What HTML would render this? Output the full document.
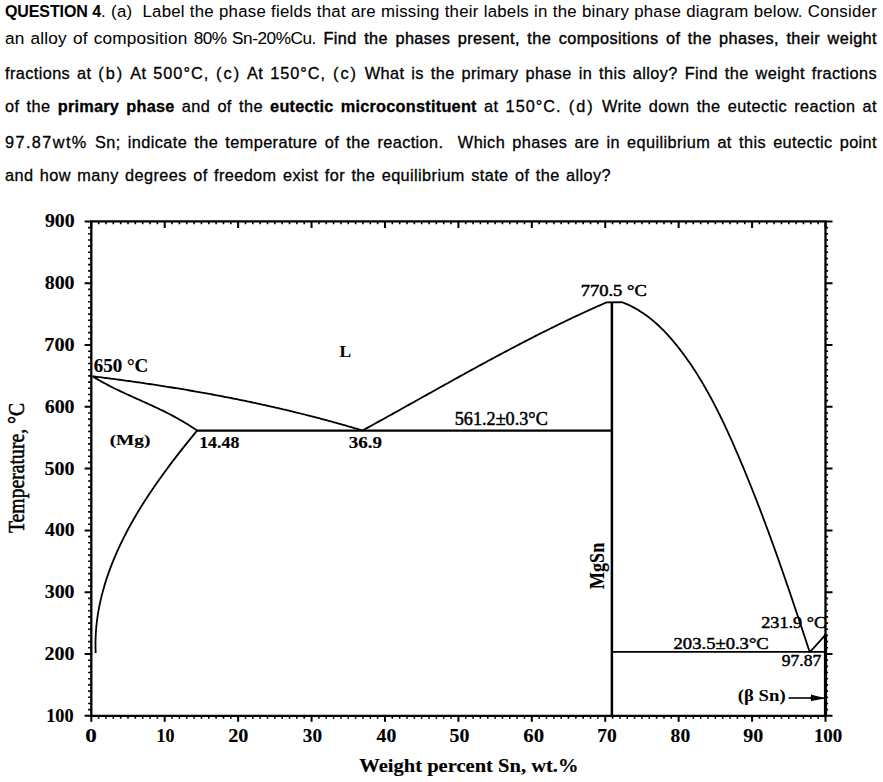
<!DOCTYPE html>
<html><head><meta charset="utf-8"><style>
html,body{margin:0;padding:0;background:#fff;}
body{width:883px;height:782px;overflow:hidden;position:relative;}
.ch{position:absolute;left:0;top:0;}
.ln{position:absolute;left:5px;width:872px;font-family:"Liberation Sans",sans-serif;line-height:20px;height:20px;color:#000;-webkit-text-stroke:0.3px #000;text-align:justify;text-align-last:justify;white-space:nowrap;}
.ar{font-size:16.3px;letter-spacing:0.4px;}
.cal{font-size:16.8px;letter-spacing:0.25px;-webkit-text-stroke:0.05px #000;}
.hv{-webkit-text-stroke:0.4px #000;}
.cal2{font-size:17.2px;letter-spacing:0.2px;word-spacing:-1.5px;-webkit-text-stroke:0.05px #000;}
.l6{text-align-last:left;word-spacing:1.5px;}
b{font-weight:bold;letter-spacing:0.25px;}
.nc{letter-spacing:-0.45px;}
b.q{letter-spacing:-0.1px;font-size:16px;}
.w{letter-spacing:2px;}
.w1{letter-spacing:1.0px;}
.w2{letter-spacing:1.4px;}

</style></head><body>
<div class="ln cal" style="top:2.48px"><b class="q">QUESTION 4</b>. (a)&nbsp; Label the phase fields that are missing their labels in the binary phase diagram below. Consider</div>
<div class="ln ar" style="top:27.65px"><span class="cal2">an alloy of composition <span class="nc">80% Sn-20%Cu.</span></span> <span class="hv">Find the phases present, the compositions of the phases, their weight</span></div>
<div class="ln ar" style="top:62.55px">fractions at <span class="w">(b)</span> At <span class="w1">500°C,</span> <span class="w">(c)</span> At <span class="w1">150°C,</span> <span class="w">(c)</span> What is the primary phase in this alloy? Find the weight fractions</div>
<div class="ln ar" style="top:96.45px">of the <b>primary phase</b> and of the <b>eutectic microconstituent</b> at <span class="w1">150°C.</span> <span class="w">(d)</span> Write down the eutectic reaction at</div>
<div class="ln ar" style="top:131.55px"><span class="w2">97.87wt%</span> Sn; indicate the temperature of the reaction.&nbsp; Which phases are in equilibrium at this eutectic point</div>
<div class="ln ar l6" style="top:165.45px">and how many degrees of freedom exist for the equilibrium state of the alloy?</div>
<svg class="ch" width="883" height="782" viewBox="0 0 883 782">
<g stroke="#000" stroke-width="2.3" fill="none" stroke-linecap="square">
<path d="M91.3 221.4 H825.5 V715.8 H91.3 Z"/>
</g>
<path d="M84.6 715.8H91.3 M825.5 715.8H832.5 M84.6 654H91.3 M825.5 654H832.5 M84.6 592.2H91.3 M825.5 592.2H832.5 M84.6 530.4H91.3 M825.5 530.4H832.5 M84.6 468.6H91.3 M825.5 468.6H832.5 M84.6 406.8H91.3 M825.5 406.8H832.5 M84.6 345H91.3 M825.5 345H832.5 M84.6 283.2H91.3 M825.5 283.2H832.5 M84.6 221.4H91.3 M825.5 221.4H832.5 M91.3 715.8V721.8 M91.3 221.4V227.9 M164.72 715.8V721.8 M164.72 221.4V227.9 M238.14 715.8V721.8 M238.14 221.4V227.9 M311.56 715.8V721.8 M311.56 221.4V227.9 M384.98 715.8V721.8 M384.98 221.4V227.9 M458.4 715.8V721.8 M458.4 221.4V227.9 M531.82 715.8V721.8 M531.82 221.4V227.9 M605.24 715.8V721.8 M605.24 221.4V227.9 M678.66 715.8V721.8 M678.66 221.4V227.9 M752.08 715.8V721.8 M752.08 221.4V227.9 M825.5 715.8V721.8 M825.5 221.4V227.9" stroke="#000" stroke-width="2" fill="none"/>
<path d="M88.1 709.62H91.3 M825.5 709.62H828.1 M88.1 703.44H91.3 M825.5 703.44H828.1 M88.1 697.26H91.3 M825.5 697.26H828.1 M88.1 691.08H91.3 M825.5 691.08H828.1 M88.1 684.9H91.3 M825.5 684.9H828.1 M88.1 678.72H91.3 M825.5 678.72H828.1 M88.1 672.54H91.3 M825.5 672.54H828.1 M88.1 666.36H91.3 M825.5 666.36H828.1 M88.1 660.18H91.3 M825.5 660.18H828.1 M88.1 647.82H91.3 M825.5 647.82H828.1 M88.1 641.64H91.3 M825.5 641.64H828.1 M88.1 635.46H91.3 M825.5 635.46H828.1 M88.1 629.28H91.3 M825.5 629.28H828.1 M88.1 623.1H91.3 M825.5 623.1H828.1 M88.1 616.92H91.3 M825.5 616.92H828.1 M88.1 610.74H91.3 M825.5 610.74H828.1 M88.1 604.56H91.3 M825.5 604.56H828.1 M88.1 598.38H91.3 M825.5 598.38H828.1 M88.1 586.02H91.3 M825.5 586.02H828.1 M88.1 579.84H91.3 M825.5 579.84H828.1 M88.1 573.66H91.3 M825.5 573.66H828.1 M88.1 567.48H91.3 M825.5 567.48H828.1 M88.1 561.3H91.3 M825.5 561.3H828.1 M88.1 555.12H91.3 M825.5 555.12H828.1 M88.1 548.94H91.3 M825.5 548.94H828.1 M88.1 542.76H91.3 M825.5 542.76H828.1 M88.1 536.58H91.3 M825.5 536.58H828.1 M88.1 524.22H91.3 M825.5 524.22H828.1 M88.1 518.04H91.3 M825.5 518.04H828.1 M88.1 511.86H91.3 M825.5 511.86H828.1 M88.1 505.68H91.3 M825.5 505.68H828.1 M88.1 499.5H91.3 M825.5 499.5H828.1 M88.1 493.32H91.3 M825.5 493.32H828.1 M88.1 487.14H91.3 M825.5 487.14H828.1 M88.1 480.96H91.3 M825.5 480.96H828.1 M88.1 474.78H91.3 M825.5 474.78H828.1 M88.1 462.42H91.3 M825.5 462.42H828.1 M88.1 456.24H91.3 M825.5 456.24H828.1 M88.1 450.06H91.3 M825.5 450.06H828.1 M88.1 443.88H91.3 M825.5 443.88H828.1 M88.1 437.7H91.3 M825.5 437.7H828.1 M88.1 431.52H91.3 M825.5 431.52H828.1 M88.1 425.34H91.3 M825.5 425.34H828.1 M88.1 419.16H91.3 M825.5 419.16H828.1 M88.1 412.98H91.3 M825.5 412.98H828.1 M88.1 400.62H91.3 M825.5 400.62H828.1 M88.1 394.44H91.3 M825.5 394.44H828.1 M88.1 388.26H91.3 M825.5 388.26H828.1 M88.1 382.08H91.3 M825.5 382.08H828.1 M88.1 375.9H91.3 M825.5 375.9H828.1 M88.1 369.72H91.3 M825.5 369.72H828.1 M88.1 363.54H91.3 M825.5 363.54H828.1 M88.1 357.36H91.3 M825.5 357.36H828.1 M88.1 351.18H91.3 M825.5 351.18H828.1 M88.1 338.82H91.3 M825.5 338.82H828.1 M88.1 332.64H91.3 M825.5 332.64H828.1 M88.1 326.46H91.3 M825.5 326.46H828.1 M88.1 320.28H91.3 M825.5 320.28H828.1 M88.1 314.1H91.3 M825.5 314.1H828.1 M88.1 307.92H91.3 M825.5 307.92H828.1 M88.1 301.74H91.3 M825.5 301.74H828.1 M88.1 295.56H91.3 M825.5 295.56H828.1 M88.1 289.38H91.3 M825.5 289.38H828.1 M88.1 277.02H91.3 M825.5 277.02H828.1 M88.1 270.84H91.3 M825.5 270.84H828.1 M88.1 264.66H91.3 M825.5 264.66H828.1 M88.1 258.48H91.3 M825.5 258.48H828.1 M88.1 252.3H91.3 M825.5 252.3H828.1 M88.1 246.12H91.3 M825.5 246.12H828.1 M88.1 239.94H91.3 M825.5 239.94H828.1 M88.1 233.76H91.3 M825.5 233.76H828.1 M88.1 227.58H91.3 M825.5 227.58H828.1 M98.64 715.8V718.8 M98.64 221.4V224.2 M105.98 715.8V718.8 M105.98 221.4V224.2 M113.33 715.8V718.8 M113.33 221.4V224.2 M120.67 715.8V718.8 M120.67 221.4V224.2 M128.01 715.8V718.8 M128.01 221.4V224.2 M135.35 715.8V718.8 M135.35 221.4V224.2 M142.69 715.8V718.8 M142.69 221.4V224.2 M150.04 715.8V718.8 M150.04 221.4V224.2 M157.38 715.8V718.8 M157.38 221.4V224.2 M172.06 715.8V718.8 M172.06 221.4V224.2 M179.4 715.8V718.8 M179.4 221.4V224.2 M186.75 715.8V718.8 M186.75 221.4V224.2 M194.09 715.8V718.8 M194.09 221.4V224.2 M201.43 715.8V718.8 M201.43 221.4V224.2 M208.77 715.8V718.8 M208.77 221.4V224.2 M216.11 715.8V718.8 M216.11 221.4V224.2 M223.46 715.8V718.8 M223.46 221.4V224.2 M230.8 715.8V718.8 M230.8 221.4V224.2 M245.48 715.8V718.8 M245.48 221.4V224.2 M252.82 715.8V718.8 M252.82 221.4V224.2 M260.17 715.8V718.8 M260.17 221.4V224.2 M267.51 715.8V718.8 M267.51 221.4V224.2 M274.85 715.8V718.8 M274.85 221.4V224.2 M282.19 715.8V718.8 M282.19 221.4V224.2 M289.53 715.8V718.8 M289.53 221.4V224.2 M296.88 715.8V718.8 M296.88 221.4V224.2 M304.22 715.8V718.8 M304.22 221.4V224.2 M318.9 715.8V718.8 M318.9 221.4V224.2 M326.24 715.8V718.8 M326.24 221.4V224.2 M333.59 715.8V718.8 M333.59 221.4V224.2 M340.93 715.8V718.8 M340.93 221.4V224.2 M348.27 715.8V718.8 M348.27 221.4V224.2 M355.61 715.8V718.8 M355.61 221.4V224.2 M362.95 715.8V718.8 M362.95 221.4V224.2 M370.3 715.8V718.8 M370.3 221.4V224.2 M377.64 715.8V718.8 M377.64 221.4V224.2 M392.32 715.8V718.8 M392.32 221.4V224.2 M399.66 715.8V718.8 M399.66 221.4V224.2 M407.01 715.8V718.8 M407.01 221.4V224.2 M414.35 715.8V718.8 M414.35 221.4V224.2 M421.69 715.8V718.8 M421.69 221.4V224.2 M429.03 715.8V718.8 M429.03 221.4V224.2 M436.37 715.8V718.8 M436.37 221.4V224.2 M443.72 715.8V718.8 M443.72 221.4V224.2 M451.06 715.8V718.8 M451.06 221.4V224.2 M465.74 715.8V718.8 M465.74 221.4V224.2 M473.08 715.8V718.8 M473.08 221.4V224.2 M480.43 715.8V718.8 M480.43 221.4V224.2 M487.77 715.8V718.8 M487.77 221.4V224.2 M495.11 715.8V718.8 M495.11 221.4V224.2 M502.45 715.8V718.8 M502.45 221.4V224.2 M509.79 715.8V718.8 M509.79 221.4V224.2 M517.14 715.8V718.8 M517.14 221.4V224.2 M524.48 715.8V718.8 M524.48 221.4V224.2 M539.16 715.8V718.8 M539.16 221.4V224.2 M546.5 715.8V718.8 M546.5 221.4V224.2 M553.85 715.8V718.8 M553.85 221.4V224.2 M561.19 715.8V718.8 M561.19 221.4V224.2 M568.53 715.8V718.8 M568.53 221.4V224.2 M575.87 715.8V718.8 M575.87 221.4V224.2 M583.21 715.8V718.8 M583.21 221.4V224.2 M590.56 715.8V718.8 M590.56 221.4V224.2 M597.9 715.8V718.8 M597.9 221.4V224.2 M612.58 715.8V718.8 M612.58 221.4V224.2 M619.92 715.8V718.8 M619.92 221.4V224.2 M627.27 715.8V718.8 M627.27 221.4V224.2 M634.61 715.8V718.8 M634.61 221.4V224.2 M641.95 715.8V718.8 M641.95 221.4V224.2 M649.29 715.8V718.8 M649.29 221.4V224.2 M656.63 715.8V718.8 M656.63 221.4V224.2 M663.98 715.8V718.8 M663.98 221.4V224.2 M671.32 715.8V718.8 M671.32 221.4V224.2 M686 715.8V718.8 M686 221.4V224.2 M693.34 715.8V718.8 M693.34 221.4V224.2 M700.69 715.8V718.8 M700.69 221.4V224.2 M708.03 715.8V718.8 M708.03 221.4V224.2 M715.37 715.8V718.8 M715.37 221.4V224.2 M722.71 715.8V718.8 M722.71 221.4V224.2 M730.05 715.8V718.8 M730.05 221.4V224.2 M737.4 715.8V718.8 M737.4 221.4V224.2 M744.74 715.8V718.8 M744.74 221.4V224.2 M759.42 715.8V718.8 M759.42 221.4V224.2 M766.76 715.8V718.8 M766.76 221.4V224.2 M774.11 715.8V718.8 M774.11 221.4V224.2 M781.45 715.8V718.8 M781.45 221.4V224.2 M788.79 715.8V718.8 M788.79 221.4V224.2 M796.13 715.8V718.8 M796.13 221.4V224.2 M803.47 715.8V718.8 M803.47 221.4V224.2 M810.82 715.8V718.8 M810.82 221.4V224.2 M818.16 715.8V718.8 M818.16 221.4V224.2" stroke="#000" stroke-width="1.6" fill="none"/>
<path d="M197 430.7 H611.9" stroke="#000" stroke-width="2.2"/>
<path d="M611.9 302 V715.8" stroke="#000" stroke-width="2.5"/>
<path d="M611.9 651.9 H825.5" stroke="#000" stroke-width="1.6"/>
<path d="M92.4 376.3 L93.9 376.48 L95.4 376.67 L96.9 376.86 L98.4 377.04 L99.9 377.23 L101.4 377.42 L102.9 377.61 L104.4 377.8 L105.91 377.99 L107.41 378.18 L108.91 378.38 L110.41 378.57 L111.91 378.77 L113.41 378.97 L114.91 379.16 L116.41 379.36 L117.91 379.56 L119.41 379.76 L120.91 379.97 L122.41 380.17 L123.91 380.37 L125.41 380.58 L126.91 380.78 L128.41 380.99 L129.91 381.2 L131.41 381.41 L132.92 381.62 L134.42 381.83 L135.92 382.04 L137.42 382.26 L138.92 382.47 L140.42 382.69 L141.92 382.91 L143.42 383.13 L144.92 383.35 L146.42 383.57 L147.92 383.79 L149.42 384.01 L150.92 384.24 L152.42 384.46 L153.92 384.69 L155.42 384.92 L156.92 385.14 L158.42 385.37 L159.93 385.61 L161.43 385.84 L162.93 386.07 L164.43 386.31 L165.93 386.54 L167.43 386.78 L168.93 387.02 L170.43 387.26 L171.93 387.5 L173.43 387.74 L174.93 387.99 L176.43 388.23 L177.93 388.48 L179.43 388.73 L180.93 388.98 L182.43 389.23 L183.93 389.48 L185.43 389.73 L186.94 389.98 L188.44 390.24 L189.94 390.5 L191.44 390.76 L192.94 391.01 L194.44 391.28 L195.94 391.54 L197.44 391.8 L198.94 392.07 L200.44 392.33 L201.94 392.6 L203.44 392.87 L204.94 393.14 L206.44 393.41 L207.94 393.69 L209.44 393.96 L210.94 394.24 L212.44 394.51 L213.94 394.79 L215.45 395.07 L216.95 395.35 L218.45 395.64 L219.95 395.92 L221.45 396.21 L222.95 396.5 L224.45 396.79 L225.95 397.08 L227.45 397.37 L228.95 397.66 L230.45 397.96 L231.95 398.25 L233.45 398.55 L234.95 398.85 L236.45 399.15 L237.95 399.46 L239.45 399.76 L240.96 400.06 L242.46 400.37 L243.96 400.68 L245.46 400.99 L246.96 401.3 L248.46 401.62 L249.96 401.93 L251.46 402.25 L252.96 402.57 L254.46 402.89 L255.96 403.21 L257.46 403.53 L258.96 403.86 L260.46 404.18 L261.96 404.51 L263.46 404.84 L264.96 405.17 L266.46 405.5 L267.97 405.84 L269.47 406.17 L270.97 406.51 L272.47 406.85 L273.97 407.19 L275.47 407.54 L276.97 407.88 L278.47 408.23 L279.97 408.57 L281.47 408.92 L282.97 409.27 L284.47 409.63 L285.97 409.98 L287.47 410.34 L288.97 410.7 L290.47 411.06 L291.97 411.42 L293.47 411.78 L294.98 412.15 L296.48 412.51 L297.98 412.88 L299.48 413.25 L300.98 413.63 L302.48 414 L303.98 414.38 L305.48 414.75 L306.98 415.13 L308.48 415.51 L309.98 415.9 L311.48 416.28 L312.98 416.67 L314.48 417.06 L315.98 417.45 L317.48 417.84 L318.98 418.23 L320.48 418.63 L321.99 419.03 L323.49 419.43 L324.99 419.83 L326.49 420.23 L327.99 420.64 L329.49 421.05 L330.99 421.46 L332.49 421.87 L333.99 422.28 L335.49 422.69 L336.99 423.11 L338.49 423.53 L339.99 423.95 L341.49 424.37 L342.99 424.8 L344.49 425.23 L345.99 425.65 L347.49 426.08 L349 426.52 L350.5 426.95 L352 427.39 L353.5 427.83 L355 428.27 L356.5 428.71 L358 429.15 L359.5 429.6 L361 430.05 L362.5 430.5 M92.4 376.3 L93.92 377.22 L95.43 378.12 L96.95 379.01 L98.47 379.89 L99.99 380.75 L101.5 381.6 L103.02 382.43 L104.54 383.25 L106.06 384.06 L107.57 384.86 L109.09 385.65 L110.61 386.43 L112.13 387.2 L113.64 387.96 L115.16 388.7 L116.68 389.45 L118.2 390.18 L119.71 390.91 L121.23 391.63 L122.75 392.34 L124.27 393.05 L125.78 393.75 L127.3 394.45 L128.82 395.14 L130.33 395.83 L131.85 396.52 L133.37 397.21 L134.89 397.89 L136.4 398.57 L137.92 399.25 L139.44 399.93 L140.96 400.61 L142.47 401.29 L143.99 401.97 L145.51 402.66 L147.03 403.34 L148.54 404.03 L150.06 404.72 L151.58 405.42 L153.1 406.12 L154.61 406.82 L156.13 407.53 L157.65 408.25 L159.17 408.97 L160.68 409.7 L162.2 410.43 L163.72 411.18 L165.23 411.93 L166.75 412.69 L168.27 413.46 L169.79 414.24 L171.3 415.04 L172.82 415.84 L174.34 416.65 L175.86 417.48 L177.37 418.32 L178.89 419.17 L180.41 420.03 L181.93 420.91 L183.44 421.81 L184.96 422.72 L186.48 423.64 L188 424.58 L189.51 425.54 L191.03 426.52 L192.55 427.51 L194.07 428.52 L195.58 429.55 L197.1 430.6 M197.1 430.6 L195.86 432.1 L194.62 433.61 L193.39 435.11 L192.16 436.61 L190.94 438.11 L189.72 439.62 L188.5 441.12 L187.29 442.62 L186.09 444.12 L184.89 445.63 L183.69 447.13 L182.5 448.63 L181.31 450.14 L180.13 451.64 L178.95 453.14 L177.78 454.64 L176.62 456.15 L175.46 457.65 L174.3 459.15 L173.15 460.65 L172.01 462.16 L170.87 463.66 L169.74 465.16 L168.62 466.66 L167.5 468.17 L166.38 469.67 L165.28 471.17 L164.18 472.68 L163.08 474.18 L162 475.68 L160.92 477.18 L159.84 478.69 L158.78 480.19 L157.72 481.69 L156.66 483.19 L155.62 484.7 L154.58 486.2 L153.55 487.7 L152.52 489.21 L151.5 490.71 L150.49 492.21 L149.49 493.71 L148.49 495.22 L147.51 496.72 L146.53 498.22 L145.55 499.72 L144.59 501.23 L143.63 502.73 L142.68 504.23 L141.74 505.74 L140.81 507.24 L139.89 508.74 L138.97 510.24 L138.06 511.75 L137.16 513.25 L136.27 514.75 L135.38 516.25 L134.51 517.76 L133.64 519.26 L132.78 520.76 L131.93 522.26 L131.09 523.77 L130.26 525.27 L129.43 526.77 L128.62 528.28 L127.81 529.78 L127.01 531.28 L126.22 532.78 L125.44 534.29 L124.67 535.79 L123.91 537.29 L123.15 538.79 L122.41 540.3 L121.67 541.8 L120.95 543.3 L120.23 544.81 L119.52 546.31 L118.83 547.81 L118.14 549.31 L117.46 550.82 L116.79 552.32 L116.13 553.82 L115.48 555.32 L114.83 556.83 L114.2 558.33 L113.58 559.83 L112.97 561.34 L112.36 562.84 L111.77 564.34 L111.19 565.84 L110.61 567.35 L110.05 568.85 L109.5 570.35 L108.95 571.85 L108.42 573.36 L107.9 574.86 L107.38 576.36 L106.88 577.86 L106.39 579.37 L105.9 580.87 L105.43 582.37 L104.97 583.88 L104.52 585.38 L104.08 586.88 L103.65 588.38 L103.22 589.89 L102.81 591.39 L102.42 592.89 L102.03 594.39 L101.65 595.9 L101.28 597.4 L100.92 598.9 L100.58 600.41 L100.24 601.91 L99.92 603.41 L99.61 604.91 L99.31 606.42 L99.01 607.92 L98.73 609.42 L98.47 610.92 L98.21 612.43 L97.96 613.93 L97.73 615.43 L97.5 616.94 L97.29 618.44 L97.09 619.94 L96.9 621.44 L96.72 622.95 L96.56 624.45 L96.4 625.95 L96.26 627.45 L96.13 628.96 L96.01 630.46 L95.91 631.96 L95.81 633.46 L95.73 634.97 L95.66 636.47 L95.6 637.97 L95.55 639.48 L95.52 640.98 L95.5 642.48 L95.49 643.98 L95.49 645.49 L95.51 646.99 L95.54 648.49 L95.58 649.99 L95.63 651.5 L95.7 653 M362.5 430.49 L363.81 429.78 L365.12 429.06 L366.43 428.34 L367.75 427.62 L369.06 426.9 L370.37 426.18 L371.68 425.46 L372.99 424.74 L374.3 424.02 L375.61 423.3 L376.92 422.57 L378.23 421.85 L379.54 421.13 L380.85 420.4 L382.16 419.68 L383.47 418.95 L384.78 418.23 L386.09 417.5 L387.4 416.77 L388.71 416.05 L390.02 415.32 L391.33 414.59 L392.64 413.86 L393.95 413.14 L395.26 412.41 L396.57 411.68 L397.87 410.95 L399.18 410.22 L400.49 409.49 L401.8 408.76 L403.11 408.03 L404.42 407.3 L405.73 406.57 L407.03 405.84 L408.34 405.11 L409.65 404.38 L410.96 403.65 L412.27 402.92 L413.58 402.19 L414.88 401.46 L416.19 400.72 L417.5 399.99 L418.81 399.26 L420.12 398.53 L421.43 397.8 L422.74 397.07 L424.04 396.34 L425.35 395.61 L426.66 394.87 L427.97 394.14 L429.28 393.41 L430.59 392.68 L431.9 391.95 L433.21 391.22 L434.52 390.49 L435.83 389.76 L437.14 389.03 L438.45 388.29 L439.76 387.56 L441.07 386.83 L442.38 386.1 L443.69 385.37 L445 384.65 L446.31 383.92 L447.62 383.19 L448.93 382.46 L450.24 381.73 L451.55 381 L452.86 380.27 L454.18 379.55 L455.49 378.82 L456.8 378.09 L458.11 377.37 L459.42 376.64 L460.74 375.91 L462.05 375.19 L463.36 374.46 L464.68 373.74 L465.99 373.02 L467.31 372.29 L468.62 371.57 L469.94 370.85 L471.25 370.13 L472.57 369.4 L473.88 368.68 L475.2 367.96 L476.51 367.24 L477.83 366.52 L479.15 365.81 L480.47 365.09 L481.78 364.37 L483.1 363.65 L484.42 362.94 L485.74 362.22 L487.06 361.51 L488.38 360.79 L489.7 360.08 L491.02 359.37 L492.34 358.66 L493.66 357.94 L494.98 357.23 L496.3 356.52 L497.62 355.82 L498.95 355.11 L500.27 354.4 L501.59 353.69 L502.92 352.99 L504.24 352.28 L505.57 351.58 L506.89 350.88 L508.22 350.18 L509.54 349.47 L510.87 348.77 L512.2 348.07 L513.53 347.38 L514.85 346.68 L516.18 345.98 L517.51 345.29 L518.84 344.59 L520.17 343.9 L521.5 343.21 L522.83 342.52 L524.17 341.83 L525.5 341.14 L526.83 340.45 L528.17 339.76 L529.5 339.08 L530.83 338.39 L532.17 337.71 L533.51 337.03 L534.84 336.35 L536.18 335.67 L537.52 334.99 L538.86 334.31 L540.19 333.63 L541.53 332.96 L542.87 332.28 L544.22 331.61 L545.56 330.94 L546.9 330.27 L548.24 329.6 L549.59 328.94 L550.93 328.27 L552.28 327.61 L553.62 326.94 L554.97 326.28 L556.31 325.62 L557.66 324.96 L559.01 324.3 L560.36 323.65 L561.71 322.99 L563.06 322.34 L564.41 321.69 L565.76 321.04 L567.12 320.39 L568.47 319.74 L569.82 319.1 L571.18 318.45 L572.53 317.81 L573.89 317.17 L575.25 316.53 L576.61 315.89 L577.97 315.26 L579.33 314.62 L580.69 313.99 L582.05 313.36 L583.41 312.73 L584.77 312.1 L586.14 311.48 L587.5 310.85 L588.87 310.23 L590.23 309.61 L591.6 308.99 L592.97 308.37 L594.34 307.76 L595.71 307.14 L597.08 306.53 L598.45 305.92 L599.82 305.32 L601.2 304.71 L602.57 304.11 L603.95 303.5 L605.32 302.9 L606.7 302.3 M606.7 302.3 L622 302.2 M622.01 302.17 L623.44 302.73 L624.86 303.31 L626.26 303.9 L627.65 304.52 L629.02 305.15 L630.38 305.8 L631.73 306.47 L633.06 307.16 L634.38 307.87 L635.69 308.59 L636.98 309.33 L638.26 310.09 L639.53 310.87 L640.78 311.66 L642.03 312.46 L643.26 313.29 L644.48 314.13 L645.68 314.98 L646.88 315.85 L648.06 316.73 L649.23 317.63 L650.39 318.54 L651.54 319.46 L652.68 320.4 L653.81 321.35 L654.93 322.31 L656.03 323.28 L657.13 324.27 L658.22 325.27 L659.3 326.28 L660.37 327.3 L661.42 328.33 L662.47 329.38 L663.51 330.43 L664.55 331.49 L665.57 332.56 L666.58 333.64 L667.59 334.73 L668.59 335.83 L669.58 336.94 L670.56 338.05 L671.54 339.18 L672.5 340.31 L673.46 341.44 L674.42 342.59 L675.36 343.74 L676.3 344.89 L677.24 346.06 L678.16 347.22 L679.08 348.4 L680 349.57 L680.9 350.76 L681.81 351.95 L682.7 353.14 L683.59 354.34 L684.48 355.54 L685.36 356.75 L686.23 357.96 L687.1 359.18 L687.96 360.4 L688.81 361.63 L689.66 362.86 L690.51 364.09 L691.35 365.33 L692.18 366.57 L693.01 367.82 L693.83 369.07 L694.65 370.33 L695.47 371.59 L696.27 372.85 L697.08 374.12 L697.87 375.39 L698.67 376.67 L699.45 377.95 L700.24 379.23 L701.02 380.52 L701.79 381.81 L702.56 383.1 L703.32 384.4 L704.08 385.7 L704.84 387 L705.59 388.31 L706.33 389.62 L707.08 390.93 L707.81 392.25 L708.55 393.57 L709.28 394.89 L710 396.21 L710.72 397.54 L711.44 398.87 L712.15 400.2 L712.86 401.54 L713.56 402.87 L714.26 404.21 L714.96 405.56 L715.66 406.9 L716.34 408.25 L717.03 409.6 L717.71 410.95 L718.39 412.31 L719.07 413.66 L719.74 415.02 L720.41 416.38 L721.07 417.74 L721.73 419.1 L722.39 420.47 L723.05 421.84 L723.7 423.2 L724.35 424.57 L725 425.94 L725.64 427.32 L726.28 428.69 L726.92 430.07 L727.55 431.44 L728.19 432.82 L728.81 434.2 L729.44 435.58 L730.07 436.96 L730.69 438.34 L731.31 439.73 L731.92 441.11 L732.54 442.49 L733.15 443.88 L733.76 445.26 L734.37 446.65 L734.97 448.04 L735.57 449.42 L736.17 450.81 L736.77 452.2 L737.37 453.59 L737.97 454.97 L738.56 456.36 L739.15 457.75 L739.74 459.14 L740.33 460.53 L740.91 461.92 L741.5 463.3 L742.08 464.69 L742.66 466.08 L743.24 467.47 L743.82 468.86 L744.4 470.25 L744.97 471.64 L745.54 473.03 L746.11 474.42 L746.68 475.81 L747.25 477.19 L747.82 478.58 L748.38 479.97 L748.94 481.36 L749.51 482.75 L750.07 484.14 L750.62 485.53 L751.18 486.92 L751.74 488.31 L752.29 489.71 L752.84 491.1 L753.39 492.49 L753.94 493.88 L754.49 495.27 L755.04 496.66 L755.58 498.05 L756.13 499.44 L756.67 500.84 L757.21 502.23 L757.75 503.62 L758.29 505.01 L758.83 506.41 L759.36 507.8 L759.9 509.19 L760.43 510.59 L760.96 511.98 L761.49 513.38 L762.02 514.77 L762.55 516.17 L763.08 517.56 L763.6 518.96 L764.13 520.35 L764.65 521.75 L765.17 523.14 L765.7 524.54 L766.22 525.94 L766.73 527.33 L767.25 528.73 L767.77 530.13 L768.29 531.52 L768.8 532.92 L769.31 534.32 L769.83 535.72 L770.34 537.12 L770.85 538.52 L771.36 539.92 L771.87 541.32 L772.38 542.72 L772.88 544.12 L773.39 545.52 L773.89 546.92 L774.4 548.32 L774.9 549.73 L775.4 551.13 L775.9 552.53 L776.4 553.94 L776.9 555.34 L777.4 556.74 L777.9 558.15 L778.4 559.55 L778.9 560.96 L779.39 562.37 L779.89 563.77 L780.38 565.18 L780.87 566.59 L781.37 567.99 L781.86 569.4 L782.35 570.81 L782.84 572.22 L783.33 573.63 L783.82 575.04 L784.31 576.45 L784.8 577.86 L785.29 579.27 L785.78 580.68 L786.26 582.09 L786.75 583.51 L787.23 584.92 L787.72 586.33 L788.2 587.75 L788.69 589.16 L789.17 590.58 L789.65 592 L790.14 593.41 L790.62 594.83 L791.1 596.25 L791.58 597.66 L792.06 599.08 L792.54 600.5 L793.02 601.92 L793.5 603.34 L793.98 604.76 L794.46 606.18 L794.94 607.61 L795.42 609.03 L795.9 610.45 L796.37 611.88 L796.85 613.3 L797.33 614.73 L797.81 616.15 L798.28 617.58 L798.76 619 L799.24 620.43 L799.71 621.86 L800.19 623.29 L800.67 624.72 L801.14 626.15 L801.62 627.58 L802.09 629.01 L802.57 630.44 L803.04 631.87 L803.52 633.31 L803.99 634.74 L804.47 636.18 L804.94 637.61 L805.42 639.05 L805.9 640.48 L806.37 641.92 L806.85 643.36 L807.32 644.8 L807.8 646.24 L808.27 647.68 L808.75 649.12 L809.22 650.56 L809.7 652 M809.7 652 L811.28 650.4 L812.86 648.77 L814.44 647.1 L816.02 645.41 L817.6 643.68 L819.18 641.93 L820.76 640.14 L822.34 638.33 L823.92 636.48 L825.5 634.6" stroke="#000" stroke-width="1.8" fill="none" stroke-linejoin="round"/>
<path d="M825.5 634 V715.8" stroke="#000" stroke-width="3.2"/>
<path d="M788.6 698 H812" stroke="#000" stroke-width="1.6"/>
<path d="M811.3 694.2 Q813 695.6 824.5 697.5 L824.5 698.7 Q813 700.4 811.3 701.3 Q809.6 697.8 811.3 694.2 Z" fill="#000"/>
<g fill="#000" stroke="#000">
<text transform="translate(46.14 721.72) scale(0.09130 0.09037)" font-family='"Liberation Serif", serif' font-weight="bold" font-size="200" stroke-width="1.65">100</text>
<text transform="translate(44.6 659.92) scale(0.10000 0.09111)" font-family='"Liberation Serif", serif' font-weight="bold" font-size="200" stroke-width="1.57">200</text>
<text transform="translate(44.7 598.12) scale(0.09965 0.09111)" font-family='"Liberation Serif", serif' font-weight="bold" font-size="200" stroke-width="1.57">300</text>
<text transform="translate(45.11 536.32) scale(0.09827 0.09111)" font-family='"Liberation Serif", serif' font-weight="bold" font-size="200" stroke-width="1.58">400</text>
<text transform="translate(44.6 474.52) scale(0.10000 0.09111)" font-family='"Liberation Serif", serif' font-weight="bold" font-size="200" stroke-width="1.57">500</text>
<text transform="translate(44.7 412.72) scale(0.09965 0.09111)" font-family='"Liberation Serif", serif' font-weight="bold" font-size="200" stroke-width="1.57">600</text>
<text transform="translate(44.29 350.92) scale(0.10107 0.09111)" font-family='"Liberation Serif", serif' font-weight="bold" font-size="200" stroke-width="1.56">700</text>
<text transform="translate(44.7 289.12) scale(0.09965 0.09111)" font-family='"Liberation Serif", serif' font-weight="bold" font-size="200" stroke-width="1.57">800</text>
<text transform="translate(44.91 227.32) scale(0.09895 0.09111)" font-family='"Liberation Serif", serif' font-weight="bold" font-size="200" stroke-width="1.58">900</text>
<text transform="translate(85.28 741.72) scale(0.11548 0.09037)" font-family='"Liberation Serif", serif' font-weight="bold" font-size="200" stroke-width="1.46">0</text>
<text transform="translate(156.46 741.72) scale(0.08977 0.09037)" font-family='"Liberation Serif", serif' font-weight="bold" font-size="200" stroke-width="1.67">10</text>
<text transform="translate(228.19 741.72) scale(0.10109 0.09037)" font-family='"Liberation Serif", serif' font-weight="bold" font-size="200" stroke-width="1.57">20</text>
<text transform="translate(302.83 741.72) scale(0.09568 0.09037)" font-family='"Liberation Serif", serif' font-weight="bold" font-size="200" stroke-width="1.61">30</text>
<text transform="translate(376.6 741.72) scale(0.09841 0.09037)" font-family='"Liberation Serif", serif' font-weight="bold" font-size="200" stroke-width="1.59">40</text>
<text transform="translate(449.6 741.72) scale(0.09946 0.09037)" font-family='"Liberation Serif", serif' font-weight="bold" font-size="200" stroke-width="1.58">50</text>
<text transform="translate(523.27 741.72) scale(0.10378 0.09037)" font-family='"Liberation Serif", serif' font-weight="bold" font-size="200" stroke-width="1.55">60</text>
<text transform="translate(597.22 741.72) scale(0.09779 0.09037)" font-family='"Liberation Serif", serif' font-weight="bold" font-size="200" stroke-width="1.59">70</text>
<text transform="translate(670.62 741.72) scale(0.09784 0.09037)" font-family='"Liberation Serif", serif' font-weight="bold" font-size="200" stroke-width="1.59">80</text>
<text transform="translate(743.2 741.72) scale(0.10000 0.09037)" font-family='"Liberation Serif", serif' font-weight="bold" font-size="200" stroke-width="1.58">90</text>
<text transform="translate(813.89 741.72) scale(0.09457 0.09037)" font-family='"Liberation Serif", serif' font-weight="bold" font-size="200" stroke-width="1.62">100</text>
<text transform="translate(359.29 771.8) scale(0.10270 0.09695)" font-family='"Liberation Serif", serif' font-weight="bold" font-size="200" stroke-width="1.5">Weight percent Sn, wt.%</text>
<text transform="translate(24.2 533.09) rotate(-90) scale(0.09862 0.11069)" font-family='"Liberation Serif", serif' font-weight="normal" font-size="200" stroke-width="4.78">Temperature, °C</text>
<text transform="translate(93.63 372.32) scale(0.09511 0.08889)" font-family='"Liberation Serif", serif' font-weight="bold" font-size="200" stroke-width="1.63">650 °C</text>
<text transform="translate(339.54 357) scale(0.08689 0.08168)" font-family='"Liberation Serif", serif' font-weight="bold" font-size="200" stroke-width="1.78">L</text>
<text transform="translate(109.63 445.41) scale(0.09678 0.07486)" font-family='"Liberation Serif", serif' font-weight="bold" font-size="200" stroke-width="1.75">(Mg)</text>
<text transform="translate(199.17 448.43) scale(0.08946 0.08667)" font-family='"Liberation Serif", serif' font-weight="bold" font-size="200" stroke-width="1.7">14.48</text>
<text transform="translate(348.63 448.43) scale(0.09524 0.08741)" font-family='"Liberation Serif", serif' font-weight="bold" font-size="200" stroke-width="1.64">36.9</text>
<text transform="translate(580.7 295.84) scale(0.09260 0.08148)" font-family='"Liberation Serif", serif' font-weight="normal" font-size="200" stroke-width="6.32">770.5 °C</text>
<text transform="translate(454.71 424.51) scale(0.09100 0.09407)" font-family='"Liberation Serif", serif' font-weight="normal" font-size="200" stroke-width="5.4">561.2±0.3°C</text>
<text transform="translate(604.2 588.97) rotate(-90) scale(0.09030 0.10000)" font-family='"Liberation Serif", serif' font-weight="bold" font-size="200" stroke-width="1.58">MgSn</text>
<text transform="translate(761.18 628.33) scale(0.09120 0.08519)" font-family='"Liberation Serif", serif' font-weight="normal" font-size="200" stroke-width="5.67">231.9 °C</text>
<text transform="translate(673.56 648.94) scale(0.09312 0.08148)" font-family='"Liberation Serif", serif' font-weight="normal" font-size="200" stroke-width="5.73">203.5±0.3°C</text>
<text transform="translate(781.77 666.24) scale(0.08790 0.07852)" font-family='"Liberation Serif", serif' font-weight="normal" font-size="200" stroke-width="6.01">97.87</text>
<text transform="translate(737.86 700.79) scale(0.09351 0.08152)" font-family='"Liberation Serif", serif' font-weight="bold" font-size="200" stroke-width="0">(β Sn)</text>
</g></svg>
</body></html>
